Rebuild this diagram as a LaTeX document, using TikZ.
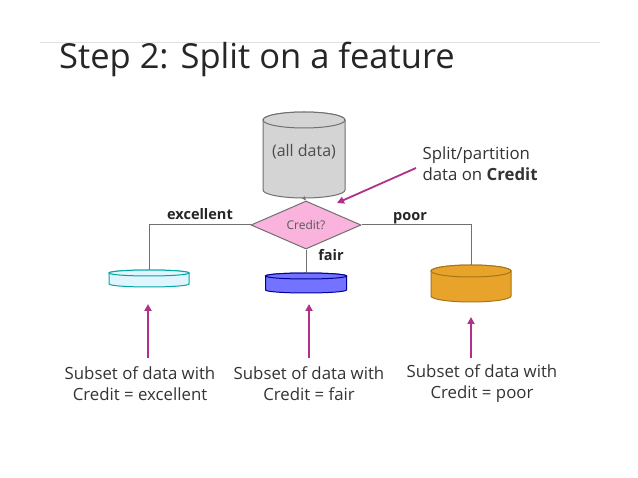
\documentclass[tikz,border=0pt]{standalone}
\usepackage{fontspec}
\setmainfont{Open Sans}
\usetikzlibrary{shapes.geometric,arrows.meta}
\definecolor{ln}{HTML}{707070}
\definecolor{mag}{HTML}{B0308A}
\definecolor{org}{HTML}{E8A42A}
\definecolor{orgd}{HTML}{A87418}
\newcommand{\mycyl}[8]{% name, cx, ytop(center of top ellipse), ybot, halfwidth, ry, fill, draw
  \path[fill=#7,draw=#8,line width=1pt] (#2-#5,#3) -- (#2-#5,#4) arc[start angle=180,end angle=360,x radius=#5,y radius=-#6] -- (#2+#5,#3) arc[start angle=0,end angle=180,x radius=#5,y radius=-#6];
  \path[fill=#7,draw=#8,line width=1pt] (#2,#3) ellipse[x radius=#5,y radius=#6];
  \node[inner sep=0,minimum width=2*#5 pt,minimum height=(#4-#3+2*#6)*1pt] (#1) at (#2,{(#3+#4)/2}) {};
  \coordinate (#1-top) at (#2,#3-#6);
}
\begin{document}
\begin{tikzpicture}[x=1pt,y=-1pt,
  conn/.style={draw=ln,line width=1pt},
  marr/.style={draw=mag,line width=1.8pt,-{Triangle[length=7pt,width=7pt]}},
  lbl/.style={font=\fontsize{14.5}{16}\selectfont\bfseries,text=black!85},
  txt/.style={font=\fontsize{16.8}{21}\selectfont,text=black!80,align=center}]
\useasboundingbox (0,0) rectangle (638,478);
\fill[white] (0,0) rectangle (638,478);
\draw[black!12,line width=0.6pt] (40,42) -- (600,42);
\node[anchor=base west,font=\fontsize{34.5}{38}\selectfont,text=black!85,inner sep=0] (title) at (59,69) {Step 2: Split on a feature};
\mycyl{all}{304}{120}{190}{41}{8}{black!17}{ln}
\node[font=\fontsize{16}{18}\selectfont,text=black!70] (alltxt) at (304,152) {(all data)};
\node[diamond,draw=ln,line width=1pt,fill=magenta!30,minimum width=110pt,minimum height=40pt,inner sep=0,font=\fontsize{12}{13}\selectfont,text=black!65] (cr) at (306,225) {Credit?};
\mycyl{c1}{149}{273}{284}{40}{3}{cyan!12}{teal!70!cyan}
\mycyl{c2}{306}{276}{290}{40.5}{3}{blue!55!white}{blue!60!black}
\mycyl{c3}{471}{271}{296}{40}{6}{org}{orgd}
\draw[conn,-{Stealth[length=5pt]}] (all.south) -- (cr.north);
\draw[conn] (cr.west) -| (c1-top);
\draw[conn] (cr.east) -| (c3-top);
\draw[conn] (cr.south) -- (c2-top);
\node[lbl] (le) at (200,214) {excellent};
\node[lbl] (lp) at (410,218) {poor};
\node[lbl] (lf) at (331,255) {fair};
\node[txt,align=left,anchor=west] (sp) at (419,164) {Split/partition\\data on \textbf{Credit}};
\coordinate (spa) at (416,168);
\draw[marr] (spa) -- (337,203);
\node[txt] (t1) at (140,384) {Subset of data with\\Credit = excellent};
\node[txt] (t2) at (309,384) {Subset of data with\\Credit = fair};
\node[txt] (t3) at (482,384) {Subset of data with\\Credit = poor};
\coordinate (a1) at (148,358); \coordinate (a2) at (309,358); \coordinate (a3) at (471,358);
\draw[marr] (a1) -- (148,304);
\draw[marr] (a2) -- (309,304);
\draw[marr] (a3) -- (471,317);
\end{tikzpicture}
\end{document}
